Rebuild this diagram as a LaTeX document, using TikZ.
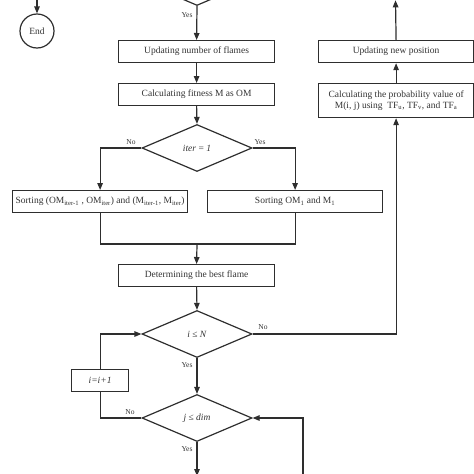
\documentclass[tikz,border=0pt]{standalone}
\usepackage{fontspec}
\setmainfont{Liberation Serif}
\usetikzlibrary{arrows.meta,shapes.geometric}
\definecolor{ln}{HTML}{2E2E2E}
\definecolor{tx}{HTML}{333333}
\tikzset{
  every node/.style={text=tx,font=\fontsize{9.5}{11}\selectfont},
  procbox/.style={draw=ln,line width=1.2pt,rectangle,minimum height=22pt,inner sep=1pt,anchor=north west},
  decis/.style={draw=ln,line width=1.2pt,diamond,minimum width=110pt,minimum height=47pt,aspect=2.35,inner sep=0pt},
  conn/.style={draw=ln,line width=1.2pt,line join=miter},
  arr/.style={conn,-{Triangle[length=7pt,width=5.5pt]}},
  lbl/.style={font=\fontsize{7.5}{9}\selectfont,inner sep=0pt}
}
\begin{document}
\begin{tikzpicture}[x=1pt,y=-1pt]
\useasboundingbox (0,0) rectangle (474,474);
\clip (0,0) rectangle (474,474);
% top (partially visible) decision and end
\node[decis] (d0) at (197,-18) {};
\node[draw=ln,line width=1.2pt,circle,minimum size=34pt,inner sep=0pt] (endc) at (37,31) {End};
\coordinate (endin) at (37,-10);
\draw[arr] (endin) -- (endc.north);
% left column boxes
\node[procbox,minimum width=156pt] (b1) at (118,40) {Updating number of flames};
\node[procbox,minimum width=156pt] (b2) at (118,83) {Calculating fitness M as OM};
\node[decis] (d1) at (197,148) {\textit{iter} = \textit{1}};
\node[procbox,minimum width=175pt] (b3) at (12,190) {Sorting (OM\textsubscript{iter-1} , OM\textsubscript{iter}) and (M\textsubscript{iter-1}, M\textsubscript{iter})};
\node[procbox,minimum width=175pt] (b4) at (207,190) {Sorting OM\textsubscript{1} and M\textsubscript{1}};
\node[procbox,minimum width=156pt] (b5) at (118,264) {Determining the best flame};
\node[decis] (d2) at (197,334) {\textit{i} ≤ \textit{N}};
\node[procbox,minimum width=57pt] (b6) at (71,369) {\textit{i=i+1}};
\node[decis] (d3) at (197,418) {\textit{j} ≤ \textit{dim}};
% right column boxes
\node[procbox,minimum width=155pt] (r1) at (318,40) {Updating new position};
\node[procbox,minimum width=155pt,minimum height=34pt,align=center] (r2) at (318,83) {Calculating the probability value of\\M(i, j) using\enspace TF\textsubscript{u}, TF\textsubscript{v}, and TF\textsubscript{a}};
% connectors
\draw[arr] (d0.south) -- (b1.north);
\node[lbl] at (187,15) {Yes};
\draw[arr] (b1.south) -- (b2.north);
\draw[arr] (b2.south) -- (d1.north);
\draw[arr] (d1.west) -| (b3.north);
\draw[arr] (d1.east) -| (b4.north);
\node[lbl] at (131,142) {No};
\node[lbl] at (260,142) {Yes};
\coordinate (mrg) at (197,244);
\draw[conn] (b3.south) |- (mrg);
\draw[conn] (b4.south) |- (mrg);
\draw[arr] (mrg) -- (b5.north);
\draw[arr] (b5.south) -- (d2.north);
\draw[arr] (d2.east) -| (r2.south);
\node[lbl] at (263,327) {No};
\draw[arr] (r2.north) -- (r1.south);
\coordinate (rtop) at (395.5,0.3);
\draw[arr] (r1.north) -- (rtop);
\draw[arr] (d2.south) -- (d3.north);
\node[lbl] at (187,365) {Yes};
\draw[conn] (d3.west) -| (b6.south);
\node[lbl] at (130,412) {No};
\draw[arr] (b6.north) |- (d2.west);
\coordinate (bot) at (197,476);
\draw[arr] (d3.south) -- (bot);
\node[lbl] at (187,449) {Yes};
\coordinate (rin) at (303,480);
\draw[arr] (rin) |- (d3.east);
\end{tikzpicture}
\end{document}
